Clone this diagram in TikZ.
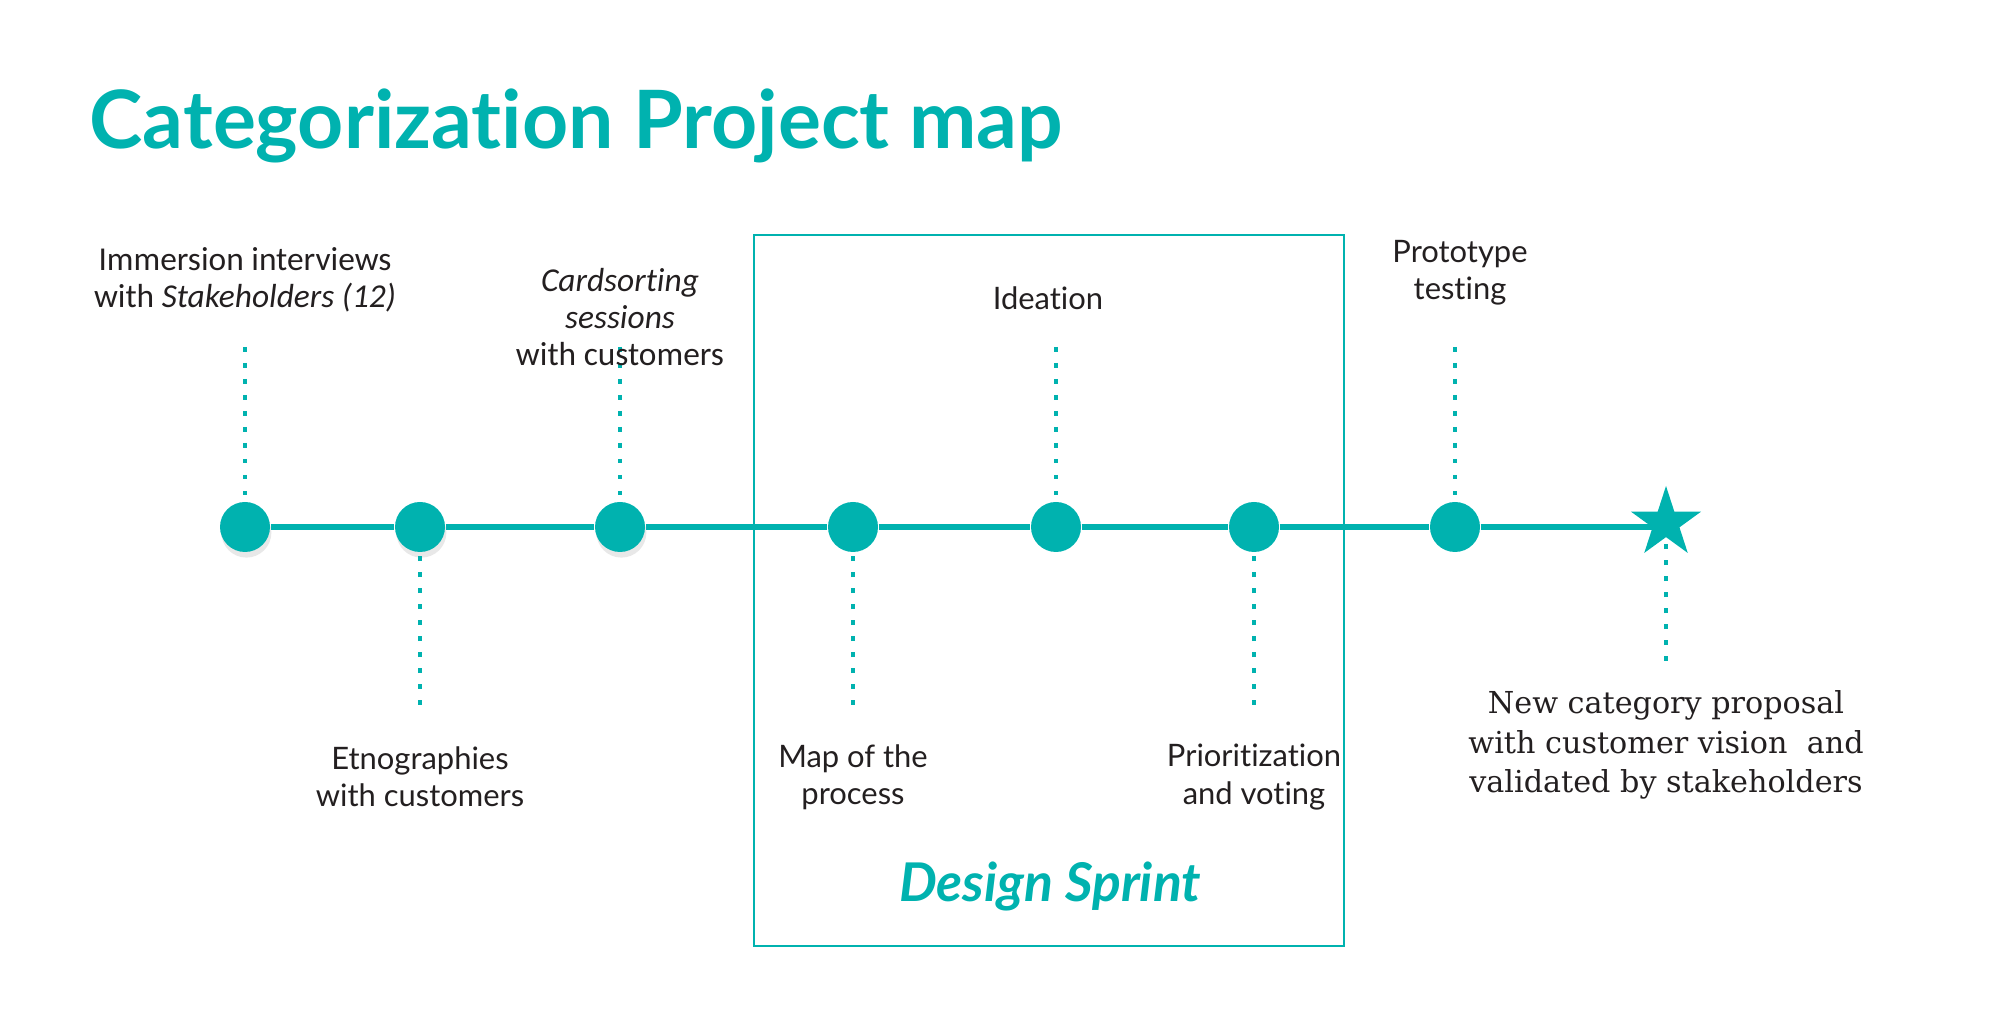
\documentclass[tikz,border=0pt]{standalone}
\usepackage{fontspec}
\setmainfont{Lato}[Ligatures=NoCommon]
\newfontfamily\calfont{Carlito}[Ligatures=NoCommon]
\newfontfamily\propfont{DejaVu Serif}
\usepackage{tikz}
\usetikzlibrary{shapes,shadows,positioning}
\definecolor{teal}{HTML}{00B2AF}
\definecolor{ink}{HTML}{231F20}

\begin{document}
\begin{tikzpicture}[x=1cm,y=1cm]
				\useasboundingbox (0,0) rectangle (20,-10.29);
				\tikzset{step dot/.style={circle,fill=teal,inner sep=0pt,minimum size=0.5cm}}
				\tikzstyle{shade dot}=[step dot,drop shadow={opacity=0.18,shadow xshift=0.4pt,shadow yshift=-1.6pt}]
				\tikzstyle{lbl}=[text=ink,align=center,font=\fontsize{8.8}{10.6}\selectfont]
				\tikzstyle{cal}=[text=ink,align=center,font=\calfont\fontsize{9.5}{10.6}\selectfont]
				\tikzstyle{tick}=[teal,line width=1.3pt,dash pattern=on 1.3pt off 3.25pt]
				\tikzstyle{axis}=[teal,line width=1.7pt]
				\node[draw=teal,line width=0.7pt,minimum width=5.90cm,minimum height=7.11cm] (box) at (10.49,-5.905) {};
				\node[anchor=base west,inner sep=0pt,text=teal,font=\bfseries\fontsize{22.9}{27}\selectfont] (title) at (0.89,-1.49) {Categorization Project map};
				\node[shade dot] (d1) at (2.45,-5.27) {};
				\node[shade dot] (d2) at (4.20,-5.27) {};
				\node[shade dot] (d3) at (6.20,-5.27) {};
				\node[step dot] (d4) at (8.53,-5.27) {};
				\node[step dot] (d5) at (10.56,-5.27) {};
				\node[step dot] (d6) at (12.54,-5.27) {};
				\node[step dot] (d7) at (14.55,-5.27) {};
				\node[star,star points=5,star point ratio=2.618,fill=teal,inner sep=0pt,minimum size=0.74cm] (goal) at (16.66,-5.23) {};
				\draw[axis] (d1) -- (d2) -- (d3) -- (d4) -- (d5) -- (d6) -- (d7) -- (goal |- d7);
				\coordinate (t1) at (2.45,-3.47);
				\coordinate (t2) at (4.20,-7.05);
				\coordinate (t3) at (6.20,-3.47);
				\coordinate (t4) at (8.53,-7.05);
				\coordinate (t5) at (10.56,-3.47);
				\coordinate (t6) at (12.54,-7.05);
				\coordinate (t7) at (14.55,-3.47);
				\coordinate (t8) at (16.66,-6.61);
				\draw[tick] (t1) -- (d1);
				\draw[tick] (t2) -- (d2);
				\draw[tick] (t3) -- (d3);
				\draw[tick] (t4) -- (d4);
				\draw[tick] (t5) -- (d5);
				\draw[tick] (t6) -- (d6);
				\draw[tick] (t7) -- (d7);
				\draw[tick] (t8) -- (goal);
				\node[cal] (l1) at (2.45,-2.80) {Immersion interviews\\with \textit{Stakeholders (12)}};
				\node[lbl] (l2) at (4.20,-7.77) {Etnographies\\with customers};
				\node[cal] (l3) at (6.20,-3.17) {\textit{Cardsorting}\\\textit{sessions}\\with customers};
				\node[lbl] (l4) at (8.53,-7.77) {Map of the\\process};
				\node[lbl] (l5) at (10.48,-2.98) {Ideation};
				\node[lbl] (l6) at (12.54,-7.77) {Prioritization\\and voting};
				\node[lbl] (l7) at (14.60,-2.73) {Prototype\\testing};
				\node[text=ink,align=center,font=\propfont\fontsize{8.6}{11.3}\selectfont] (l8) at (16.66,-7.45) {New category proposal\\with customer vision\ \ and\\validated by stakeholders};
				\node[text=teal,font=\bfseries\itshape\fontsize{15.2}{18}\selectfont] (sprint) at (10.50,-8.86) {Design Sprint};
			\end{tikzpicture}
\end{document}
